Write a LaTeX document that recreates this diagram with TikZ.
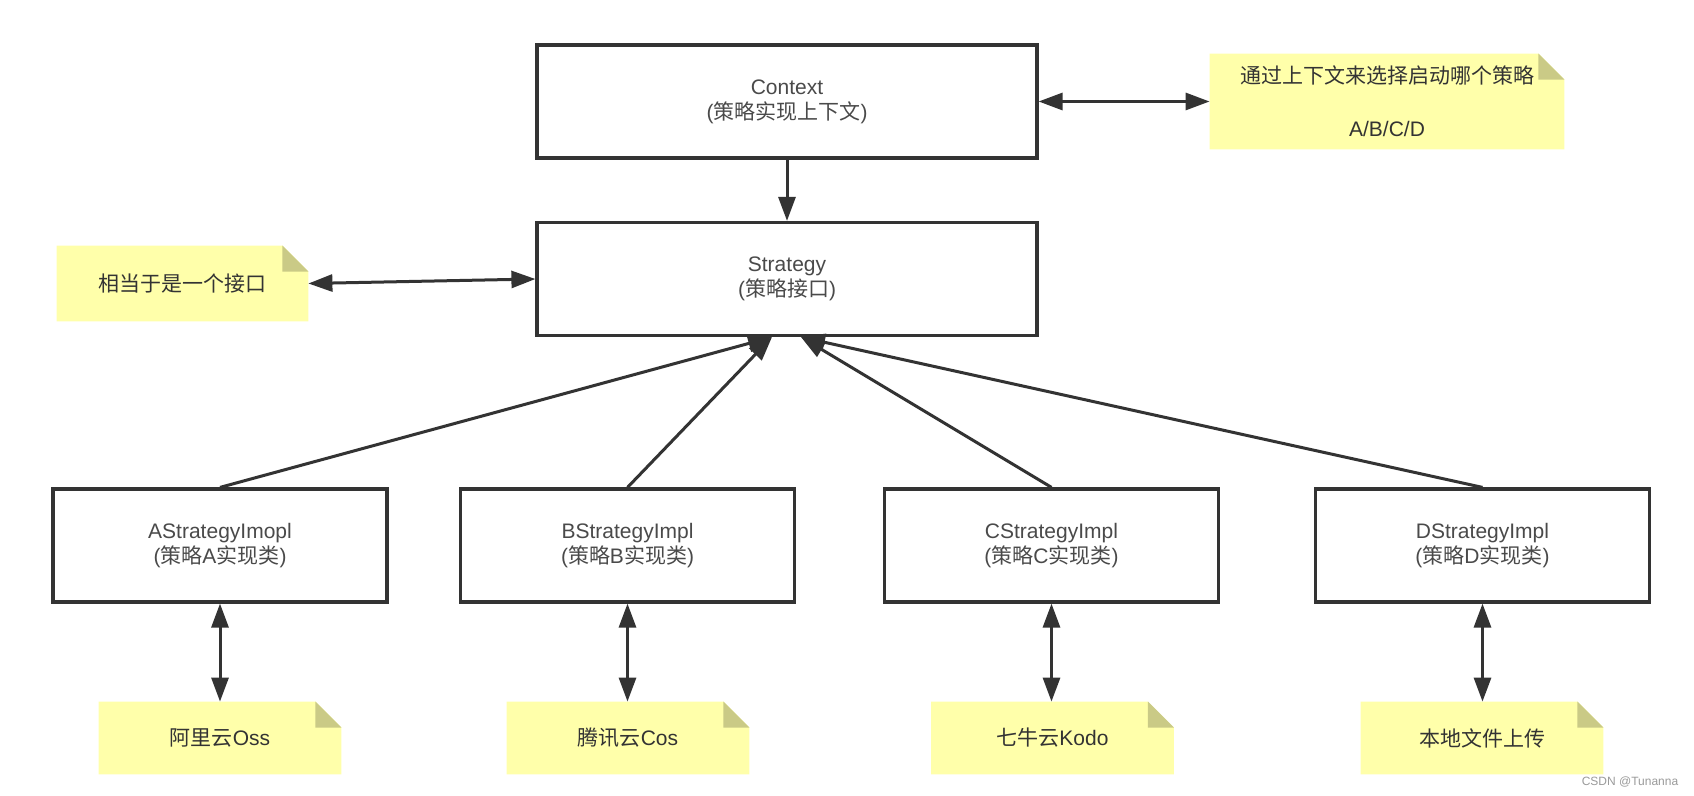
\documentclass[tikz,border=0pt]{standalone}
\usepackage{fontspec}
\setmainfont{Liberation Sans}
\newfontfamily\cjk{Noto Sans CJK SC}
\usetikzlibrary{arrows.meta,calc,backgrounds}
\definecolor{ink}{HTML}{333333}
\definecolor{txt}{HTML}{4A4A4A}
\definecolor{notefill}{HTML}{FFFFAA}
\definecolor{notefold}{HTML}{CACA86}
\definecolor{wm}{HTML}{9A9A9A}
\newcommand\drawnote[1]{%
  \begin{scope}[on background layer]
    \fill[notefill] (#1.north west) -- ($(#1.north east)+(-26,0)$) -- ($(#1.north east)+(0,26)$) -- (#1.south east) -- (#1.south west) -- cycle;
    \fill[notefold] ($(#1.north east)+(-26,0)$) -- ($(#1.north east)+(-26,26)$) -- ($(#1.north east)+(0,26)$) -- cycle;
  \end{scope}}
\begin{document}
\begin{tikzpicture}[x=0.5pt,y=-0.5pt,
  >={Triangle[length=12pt,width=8.5pt]},
  txtfont/.style={font=\fontsize{10.5pt}{12.5pt}\selectfont},
  box/.style={draw=ink, line width=1.6pt, fill=white, align=center, text=txt, inner sep=0pt, txtfont},
  bigbox/.style={box, minimum width=250pt, minimum height=56.5pt},
  implbox/.style={box, minimum width=167pt, minimum height=56.5pt},
  note/.style={align=center, text=ink, inner sep=0pt, txtfont},
  smallnote/.style={note, minimum width=121pt, minimum height=36pt},
  conn/.style={draw=ink, line width=1.5pt}
]
\begin{scope}[on background layer]
  \fill[white] (0,0) rectangle (1694,796);
\end{scope}
\useasboundingbox (0,0) rectangle (1694,796);

% main boxes
\node[bigbox] (ctx) at (787,101.5) {Context\\({\cjk 策略实现上下文})};
\node[bigbox] (strat) at (787,279) {Strategy\\({\cjk 策略接口})};

\node[implbox] (a) at (220,545.5) {AStrategyImopl\\({\cjk 策略}A{\cjk 实现类})};
\node[implbox] (b) at (627.5,545.5) {BStrategyImpl\\({\cjk 策略}B{\cjk 实现类})};
\node[implbox] (c) at (1051.5,545.5) {CStrategyImpl\\({\cjk 策略}C{\cjk 实现类})};
\node[implbox] (d) at (1482.5,545.5) {DStrategyImpl\\({\cjk 策略}D{\cjk 实现类})};

% notes
\node[note, minimum width=177pt, minimum height=47.5pt] (n1) at (1387,101.5)
  {{\cjk 通过上下文来选择启动哪个策略}\\[14pt]A/B/C/D};
\drawnote{n1}
\node[note, minimum width=125.5pt, minimum height=37.5pt] (n2) at (182.5,283.5)
  {{\cjk 相当于是一个接口}};
\drawnote{n2}

\node[smallnote] (na) at (220,738) {{\cjk 阿里云}Oss};
\drawnote{na}
\node[smallnote] (nb) at (628,738) {{\cjk 腾讯云}Cos};
\drawnote{nb}
\node[smallnote] (nc) at (1052.5,738) {{\cjk 七牛云}Kodo};
\drawnote{nc}
\node[smallnote] (nd) at (1482,738) {{\cjk 本地文件上传}};
\drawnote{nd}

% connectors
\draw[conn,->] (ctx.south) -- (strat.north);
\draw[conn,<->] (ctx.east) -- (n1.west);
\draw[conn,<->] (n2.east) -- (strat.west);

\coordinate (s1) at ($(strat.south)+(-15,0)$);
\coordinate (s2) at ($(strat.south)+(14,0)$);
\draw[conn,->] (a.north) -- (s1);
\draw[conn,->] (b.north) -- (s1);
\draw[conn,->] (c.north) -- (s2);
\draw[conn,->] (d.north) -- (s2);

\draw[conn,<->] (a.south) -- (a.south |- na.north);
\draw[conn,<->] (b.south) -- (b.south |- nb.north);
\draw[conn,<->] (c.south) -- (c.south |- nc.north);
\draw[conn,<->] (d.south) -- (d.south |- nd.north);

% watermark
\node[text=wm, font=\fontsize{6pt}{7pt}\selectfont, inner sep=0pt] (wmk) at (1630,782) {CSDN @Tunanna};
\end{tikzpicture}
\end{document}
